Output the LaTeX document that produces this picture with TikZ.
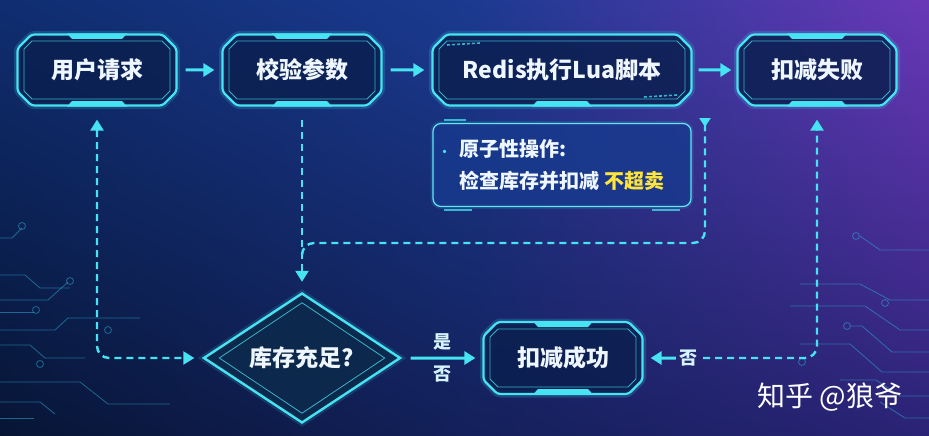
\documentclass[tikz,border=0pt]{standalone}
\usepackage{fontspec}
\setmainfont{Noto Sans CJK SC}
\usetikzlibrary{arrows.meta,positioning,shapes.geometric,shapes.misc,calc,shadings}
\definecolor{neon}{HTML}{46E3F2}
\definecolor{neondim}{HTML}{2FA8D0}
\definecolor{boxfill}{HTML}{0B1F4F}
\definecolor{decfill}{HTML}{0C2A4C}
\definecolor{notefill}{HTML}{173A8E}
\definecolor{txt}{HTML}{EEF6FF}
\definecolor{lbltxt}{HTML}{D6F4FF}
\definecolor{hilite}{HTML}{FFE53B}
\definecolor{bgnavy}{HTML}{0F2D70}
\definecolor{bgblue}{HTML}{1B3A90}
\definecolor{bgdeep}{HTML}{071535}
\definecolor{bgmid}{HTML}{13205A}
\definecolor{bgviolet}{HTML}{6A38B8}
\definecolor{bgplum}{HTML}{2A2376}

\begin{document}
\begin{tikzpicture}[
    x=1pt, y=-1pt,
    >={Triangle[length=11pt, width=13pt]},
    techbox/.style={
      chamfered rectangle,
      chamfered rectangle xsep=7pt,
      chamfered rectangle ysep=7pt,
      rounded corners=3pt,
      draw=neon,
      line width=2.2pt,
      fill=boxfill,
      fill opacity=0.85,
      text opacity=1,
      text=txt,
      inner sep=0pt,
      minimum height=71pt,
      font=\fontsize{23}{27}\selectfont\bfseries,
      preaction={draw=neon, line width=7pt, draw opacity=0.18}
    },
    decision/.style={
      diamond,
      aspect=1.5,
      draw=neon,
      line width=2.4pt,
      fill=decfill,
      fill opacity=0.9,
      text opacity=1,
      text=txt,
      inner sep=0pt,
      minimum width=197pt,
      minimum height=130pt,
      font=\fontsize{23}{27}\selectfont\bfseries,
      preaction={draw=neon, line width=7pt, draw opacity=0.15}
    },
    notebox/.style={
      rectangle,
      rounded corners=8pt,
      draw=neon!85,
      line width=1.2pt,
      fill=notefill,
      fill opacity=0.8,
      text opacity=1,
      text=txt,
      align=left,
      minimum width=258pt,
      minimum height=83pt,
      font=\fontsize{20}{32}\selectfont\bfseries,
      preaction={draw=neon, line width=5pt, draw opacity=0.12}
    },
    innerline/.style={draw=neon, line width=0.8pt, opacity=0.75},
    bar/.style={fill=neon},
    flow/.style={->, draw=neon, line width=3pt},
    dashline/.style={draw=neon, line width=2.4pt, dash pattern=on 7pt off 5pt, rounded corners=12pt},
    lbl/.style={text=lbltxt, font=\fontsize{18}{20}\selectfont\bfseries, inner sep=3pt},
    trace/.style={draw=neondim, line width=0.8pt, opacity=0.55}
  ]

  \shade[upper left=bgnavy, upper right=bgblue, lower left=bgdeep, lower right=bgmid] (0,0) rectangle (470,436);
  \shade[upper left=bgblue, upper right=bgviolet, lower left=bgmid, lower right=bgplum] (470,0) rectangle (929,436);
  \useasboundingbox (0,0) rectangle (929,436);

  \draw[trace] (0,238) -- (12,238) -- (22,228);
  \draw[trace] (0,275) -- (25,275) -- (40,288) -- (70,288);
  \draw[trace] (0,300) -- (48,300) -- (68,282);
  \draw[trace] (0,312) -- (34,312);
  \draw[trace] (0,330) -- (55,330) -- (68,318) -- (140,318);
  \draw[trace] (0,345) -- (30,345) -- (45,358) -- (85,358);
  \draw[trace] (0,382) -- (80,382) -- (108,404) -- (170,404);
  \draw[trace] (0,402) -- (40,402) -- (55,414);
  \draw[trace] (0,418) -- (34,418);
  \foreach \p in {(22,226),(70,281),(36,310),(40,364),(108,330)}
    \draw[trace] \p circle (3.5);
  \draw[trace] (929,300) -- (890,300) -- (860,284) -- (800,284);
  \draw[trace] (929,330) -- (900,330) -- (865,306) -- (790,306);
  \draw[trace] (929,352) -- (892,352) -- (862,326) -- (850,326);
  \draw[trace] (929,372) -- (882,372) -- (850,344) -- (800,344);
  \draw[trace] (929,396) -- (900,396) -- (876,380) -- (840,380);
  \draw[trace] (929,418) -- (905,418) -- (880,402);
  \draw[trace] (929,250) -- (880,250) -- (860,236);
  \foreach \p in {(856,236),(847,326),(885,303),(802,362)}
    \draw[trace] \p circle (3.5);

  \node[techbox, minimum width=159pt] (req) at (97,70) {用户请求};
  \node[techbox, minimum width=159pt] (chk) at (302,70) {校验参数};
  \node[techbox, minimum width=259pt] (lua) at (562,70) {Redis执行Lua脚本};
  \node[techbox, minimum width=159pt] (fail) at (817,70) {扣减失败};
  \node[techbox, minimum width=159pt, minimum height=72pt] (ok) at (563,358) {扣减成功};
  \node[decision] (dec) at (302,358) {库存充足?};
  \node[notebox] (note) at (562,165) {\llap{\textcolor{neon}{\fontsize{12}{12}\selectfont•}\hspace{9pt}}原子性操作:\\检查库存并扣减\ \textcolor{hilite}{不超卖}};

  \foreach \n/\w in {req/80,chk/80,lua/130,fail/80,ok/80}
    \draw[innerline] ($(\n)+(-\w+15,-29)$) -- ($(\n)+(\w-15,-29)$) -- ($(\n)+(\w-7,-21)$) -- ($(\n)+(\w-7,21)$)
      -- ($(\n)+(\w-15,29)$) -- ($(\n)+(-\w+15,29)$) -- ($(\n)+(-\w+7,21)$) -- ($(\n)+(-\w+7,-21)$) -- cycle;
  \foreach \n in {req,chk,fail,ok}
    \fill[bar] ($(\n)+(-30,-36.5)$) -- ($(\n)+(30,-36.5)$) -- ($(\n)+(25,-31)$) -- ($(\n)+(-25,-31)$) -- cycle;
  \foreach \n in {req,chk,lua,fail,ok}
    \fill[bar] ($(\n)+(-30,36.5)$) -- ($(\n)+(30,36.5)$) -- ($(\n)+(25,31)$) -- ($(\n)+(-25,31)$) -- cycle;
  \draw[innerline, dash pattern=on 3pt off 2pt, line width=1.6pt] ($(lua)+(-115,-25)$) -- ($(lua)+(-82,-27)$);
  \draw[innerline, dash pattern=on 3pt off 2pt, line width=1.6pt] ($(lua)+(82,27)$) -- ($(lua)+(115,25)$);
  \draw[innerline] ($(dec.north)+(0,11)$) -- ($(dec.east)+(-17,0)$) -- ($(dec.south)+(0,-11)$) -- ($(dec.west)+(17,0)$) -- cycle;
  \draw[innerline, line width=1.6pt] ($(note.north west)+(12,-3)$) -- ++(22,0);
  \draw[innerline, line width=1.6pt] ($(note.south west)+(12,3)$) -- ++(28,0);
  \draw[innerline, line width=1.6pt] ($(note.south east)+(-40,3)$) -- ++(28,0);

  \draw[flow, shorten <=8pt, shorten >=7pt] (req) -- (chk);
  \draw[flow, shorten <=8pt, shorten >=7pt] (chk) -- (lua);
  \draw[flow, shorten <=6pt, shorten >=5pt] (lua) -- (fail);
  \draw[flow, shorten <=9pt, shorten >=7pt] (dec) -- node[lbl, above=3pt] {是} node[lbl, below=3pt] {否} (ok);

  \coordinate (luaout) at (705,118);
  \coordinate (merge) at (302,243);
  \draw[dashline, <->, shorten <=13pt, shorten >=8pt] (req.south) |- (dec.west);
  \draw[dashline, ->, shorten <=13pt, shorten >=10pt] (chk.south) -- (dec.north);
  \draw[dashline, {Triangle[reversed, length=9pt, width=11pt]}-] (luaout) |- (merge) -- ++(0,16);

  \node[lbl] (nor) at (688,358) {否};
  \draw[flow, shorten >=7pt] (nor) -- (ok);
  \draw[dashline, ->, shorten <=3pt, shorten >=13pt] (nor.east) -| (fail.south);

  \node[text=white, font=\fontsize{28}{30}\selectfont] (mark) at (830,397) {知乎 @狼爷};

\end{tikzpicture}
\end{document}
